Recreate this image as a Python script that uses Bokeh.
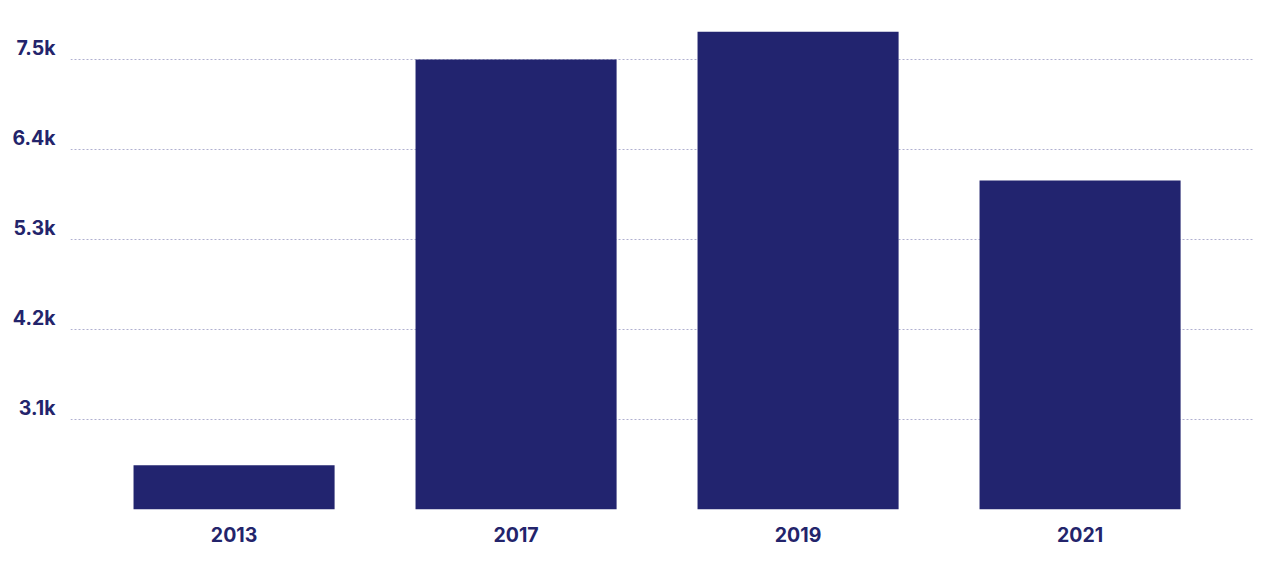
from bokeh.plotting import figure
from bokeh.models import Range1d, FixedTicker, ColumnDataSource
from bokeh.embed import file_html
from bokeh.resources import INLINE

years = ["2013", "2017", "2019", "2021"]
values = [2540, 7500, 7840, 6020]
y_ticks = [3100, 4200, 5300, 6400, 7500]
y_tick_labels = ["3.1k", "4.2k", "5.3k", "6.4k", "7.5k"]
baseline = 2000

NAVY = "#22246f"
TEXT = "#23246b"

x_pos = list(range(len(years)))
src = ColumnDataSource(dict(x=x_pos, top=values, year=years))

p = figure(width=1264, height=556, output_backend="svg", toolbar_location=None,
           x_range=Range1d(-0.58, 3.615), y_range=Range1d(baseline, 7977),
           min_border_left=70, min_border_right=11, min_border_top=20, min_border_bottom=47)
p.outline_line_color = None
p.background_fill_color = "white"
p.border_fill_color = "white"

p.vbar(x="x", top="top", bottom=baseline, width=0.713, source=src,
       fill_color=NAVY, line_color=None)

# grid lines at the tick values (plus baseline)
p.xgrid.visible = False
p.ygrid.ticker = FixedTicker(ticks=[baseline] + y_ticks)
p.ygrid.grid_line_color = "#b0b0d0"
p.ygrid.grid_line_dash = "2 2"
p.ygrid.grid_line_width = 1

# y labels sit just above their grid lines
label_shift = 140
shifted = [t + label_shift for t in y_ticks]
p.yaxis.ticker = FixedTicker(ticks=shifted)
p.yaxis.major_label_overrides = {s: l for s, l in zip(shifted, y_tick_labels)}
p.yaxis.axis_line_color = None
p.yaxis.major_tick_line_color = None
p.yaxis.minor_tick_line_color = None
p.yaxis.major_label_standoff = 9
p.yaxis.major_label_text_font = "Inter"
p.yaxis.major_label_text_font_style = "bold"
p.yaxis.major_label_text_font_size = "19.5px"
p.yaxis.major_label_text_color = TEXT

p.xaxis.ticker = FixedTicker(ticks=x_pos)
p.xaxis.major_label_overrides = {i: y for i, y in zip(x_pos, years)}
p.xaxis.axis_line_color = None
p.xaxis.major_tick_line_color = None
p.xaxis.minor_tick_line_color = None
p.xaxis.major_label_standoff = 11
p.xaxis.major_label_text_font = "Inter"
p.xaxis.major_label_text_font_style = "bold"
p.xaxis.major_label_text_font_size = "19.5px"
p.xaxis.major_label_text_color = TEXT

open("out.html", "w").write(file_html(p, INLINE))
